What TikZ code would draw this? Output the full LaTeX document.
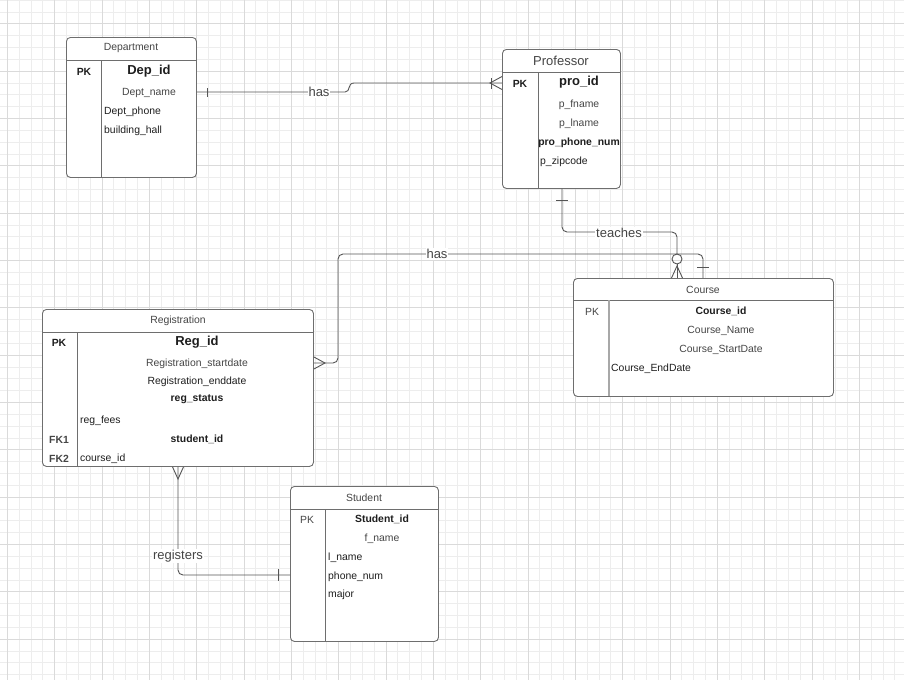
\documentclass[tikz,border=0pt]{standalone}
\usepackage{fontspec}
\setmainfont{Liberation Sans}
\usetikzlibrary{calc}
\definecolor{boxc}{HTML}{6E6E6E}
\definecolor{linec}{HTML}{555555}
\definecolor{txt}{HTML}{1E1E1E}
\definecolor{gtxt}{HTML}{454545}
\definecolor{gminor}{HTML}{EDEDED}
\definecolor{gmajor}{HTML}{DADADA}
\tikzset{
  tbl/.style={draw=boxc, line width=0.9pt, rounded corners=4pt, inner sep=0pt, anchor=north west},
  divln/.style={draw=boxc, line width=0.9pt},
  fld/.style={inner sep=0pt, yshift=-1.5pt, text=txt, font=\fontsize{10.4}{12}\selectfont},
  gfld/.style={fld, text=gtxt},
  bfld/.style={fld, font=\fontsize{10.4}{12}\selectfont\bfseries},
  bigfld/.style={fld, font=\fontsize{13}{15}\selectfont\bfseries},
  hdr/.style={fld, text=gtxt, font=\fontsize{10.4}{12}\selectfont},
  lft/.style={fld, anchor=west},
  conn/.style={draw=linec, line width=0.9pt, rounded corners=5pt},
  tickln/.style={draw=linec, line width=0.9pt},
  lbl/.style={fill=white, inner sep=1pt, yshift=-1pt, text=gtxt, font=\fontsize{13}{15}\selectfont}
}
\begin{document}
\begin{tikzpicture}[x=1pt,y=-1pt]
\useasboundingbox (0,0) rectangle (904,680);
\fill[white] (0,0) rectangle (904,680);
% grid
\foreach \k in {0,...,75}{\draw[gminor,line width=0.8pt] ({7.3+11.833*\k},0) -- ({7.3+11.833*\k},680);}
\foreach \k in {-2,...,55}{\draw[gminor,line width=0.8pt] (0,{23.8+11.833*\k}) -- (904,{23.8+11.833*\k});}
\foreach \k in {0,4,...,75}{\draw[gmajor,line width=0.8pt] ({7.3+11.833*\k},0) -- ({7.3+11.833*\k},680);}
\foreach \k in {0,4,...,55}{\draw[gmajor,line width=0.8pt] (0,{23.8+11.833*\k}) -- (904,{23.8+11.833*\k});}

% ---------- Department ----------
\node[tbl, fill=white, minimum width=130pt, minimum height=140pt] (dept) at (66,37) {};
\draw[divln] (66,60) -- (196,60);
\draw[divln] (101,60) -- (101,177);
\node[hdr] (dept-h) at (131,47) {Department};
\node[bfld] (dept-pk) at (84,70) {PK};
\node[bigfld] (dept-1) at (149,70) {Dep\_id};
\node[gfld] (dept-2) at (149,91) {Dept\_name};
\node[lft] (dept-3) at (104,110) {Dept\_phone};
\node[lft] (dept-4) at (104,129) {building\_hall};

% ---------- Professor ----------
\node[tbl, fill=white, minimum width=118pt, minimum height=139pt] (prof) at (502,49) {};
\draw[divln] (502,72) -- (620,72);
\draw[divln] (538,72) -- (538,188);
\node[hdr, font=\fontsize{13}{15}\selectfont] (prof-h) at (561,59) {Professor};
\node[bfld] (prof-pk) at (520,82) {PK};
\node[bigfld] (prof-1) at (579,81) {pro\_id};
\node[gfld] (prof-2) at (579,103) {p\_fname};
\node[gfld] (prof-3) at (579,122) {p\_lname};
\node[bfld] (prof-4) at (579,141) {pro\_phone\_num};
\node[lft] (prof-5) at (540,160) {p\_zipcode};

% ---------- Course ----------
\node[tbl, fill=white, minimum width=260pt, minimum height=118pt] (course) at (573,278) {};
\draw[divln] (573,300) -- (833,300);
\draw[draw=boxc!60, line width=1.6pt] (609,300) -- (609,396);
\node[hdr] (course-h) at (703,288) {Course};
\node[gfld] (course-pk) at (592,310) {PK};
\node[bfld] (course-1) at (721,310) {Course\_id};
\node[gfld] (course-2) at (721,329) {Course\_Name};
\node[gfld] (course-3) at (721,348) {Course\_StartDate};
\node[lft] (course-4) at (611,367) {Course\_EndDate};

% ---------- Registration ----------
\node[tbl, fill=white, minimum width=271pt, minimum height=157pt] (reg) at (42,309) {};
\draw[divln] (42,332) -- (313,332);
\draw[divln] (77,332) -- (77,466);
\node[hdr] (reg-h) at (178,319) {Registration};
\node[bfld] (reg-pk) at (59,341) {PK};
\node[bigfld] (reg-1) at (197,341) {Reg\_id};
\node[gfld] (reg-2) at (197,362) {Registration\_startdate};
\node[fld] (reg-3) at (197,380) {Registration\_enddate};
\node[bfld] (reg-4) at (197,398) {reg\_status};
\node[lft] (reg-5) at (80,419) {reg\_fees};
\node[bfld, text=gtxt] (reg-fk1) at (59,438) {FK1};
\node[bfld] (reg-6) at (197,438) {student\_id};
\node[bfld, text=gtxt] (reg-fk2) at (59,457) {FK2};
\node[lft] (reg-7) at (80,457) {course\_id};

% ---------- Student ----------
\node[tbl, fill=white, minimum width=148pt, minimum height=155pt] (stud) at (290,486) {};
\draw[divln] (290,509) -- (438,509);
\draw[divln] (325,509) -- (325,641);
\node[hdr] (stud-h) at (364,496) {Student};
\node[gfld] (stud-pk) at (307,518) {PK};
\node[bfld] (stud-1) at (382,518) {Student\_id};
\node[gfld] (stud-2) at (382,537) {f\_name};
\node[lft] (stud-3) at (328,556) {l\_name};
\node[lft] (stud-4) at (328,575) {phone\_num};
\node[lft] (stud-5) at (328,593) {major};

% ---------- Department -- Professor (has) ----------
\draw[draw=linec, line width=0.9pt] (dept.east |- 0,92) -- (345,92) .. controls (351,92) and (347,83) .. (354,83) -- (prof.west |- 0,83);
\node[lbl] (has1) at (319,91) {has};
\draw[tickln] (207,88) -- (207,97);
\draw[tickln] (491,78) -- (491,89);
\draw[tickln] (prof.west |- 0,76.5) -- (490,83) -- (prof.west |- 0,89.5);

% ---------- Professor -- Course (teaches) ----------
\draw[conn] (prof.south -| 562,0) -- (562,232) -- (677,232) -- (677,254);
\draw[conn] (677,264) -- (course.north -| 677,0);
\node[lbl] (teaches) at (619,232) {teaches};
\draw[tickln] (556,200) -- (568,200);
\draw[tickln] (677,259) circle (5pt);
\draw[tickln] (course.north -| 671.5,0) -- (677,266) -- (course.north -| 682.5,0);

% ---------- Registration -- Course (has) ----------
\draw[conn] (reg.east |- 0,363) -- (338,363) -- (338,254) -- (703,254) -- (course.north -| 703,0);
\node[lbl] (has2) at (437,253) {has};
\draw[tickln] (697,267) -- (709,267);
\draw[tickln] (reg.east |- 0,357) -- (325,363) -- (reg.east |- 0,369);

% ---------- Registration -- Student (registers) ----------
\draw[conn] (reg.south -| 178,0) -- (178,575) -- (stud.west |- 0,575);
\node[lbl] (registers) at (178,555) {registers};
\draw[tickln] (278,569) -- (278,581);
\draw[tickln] (reg.south -| 172.5,0) -- (178,479) -- (reg.south -| 183.5,0);
\end{tikzpicture}
\end{document}
